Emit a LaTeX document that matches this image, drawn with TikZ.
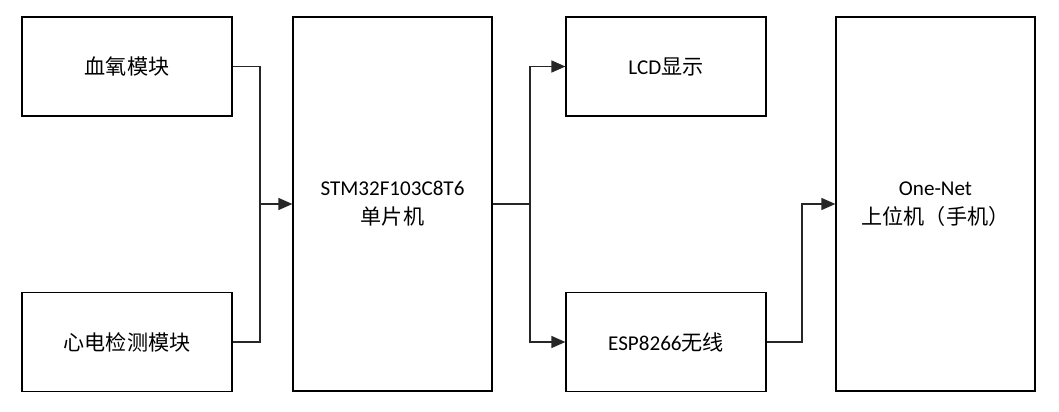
\documentclass[tikz,border=0pt]{standalone}
\usepackage{fontspec}
\setmainfont{Carlito}
\newfontfamily\cjk{Noto Sans CJK SC}
\usetikzlibrary{arrows.meta}

\begin{document}
\begin{tikzpicture}[x=0.025cm,y=-0.025cm,
        font=\fontsize{15pt}{20.6pt}\selectfont,
        block/.style={draw=black, line width=0.8pt, align=center, inner sep=0pt},
        smallblock/.style={block, minimum width=200*0.025cm, minimum height=99*0.025cm},
        tallblock/.style={block, minimum width=199*0.025cm, minimum height=374*0.025cm},
        wire/.style={line width=1.2pt, color=black!85},
        feed/.style={wire, -{Triangle[length=10pt,width=8.5pt]}}]
        \useasboundingbox (0,0) rectangle (1059,412);

        % Input modules
        \node[smallblock, minimum width=210*0.025cm] (spo) at (127,66.5) {\cjk 血氧模块};
        \node[smallblock, minimum width=210*0.025cm] (ecg) at (127,342) {\cjk 心电检测模块};

        % Controller
        \node[tallblock] (mcu) at (392.5,204) {STM32F103C8T6\\{\cjk 单片机}};

        % Outputs
        \node[smallblock] (lcd) at (666,66.5) {LCD{\cjk 显示}};
        \node[smallblock] (esp) at (666,342) {ESP8266{\cjk 无线}};

        % Host
        \node[tallblock] (host) at (935.5,204) {One-Net\\{\cjk 上位机（手机）}};

        % Junctions
        \coordinate (jin) at (260,204);
        \coordinate (jout) at (530,204);
        \coordinate (jnet) at (802,204);

        % Connections
        \draw[wire] (spo.east) -| (jin);
        \draw[wire] (ecg.east) -| (jin);
        \draw[feed] (jin) -- (mcu.west);
        \draw[wire] (mcu.east) -- (jout);
        \draw[feed] (jout) |- (lcd.west);
        \draw[feed] (jout) |- (esp.west);
        \draw[feed] (esp.east) -| (jnet) -- (host.west);
    \end{tikzpicture}
\end{document}
